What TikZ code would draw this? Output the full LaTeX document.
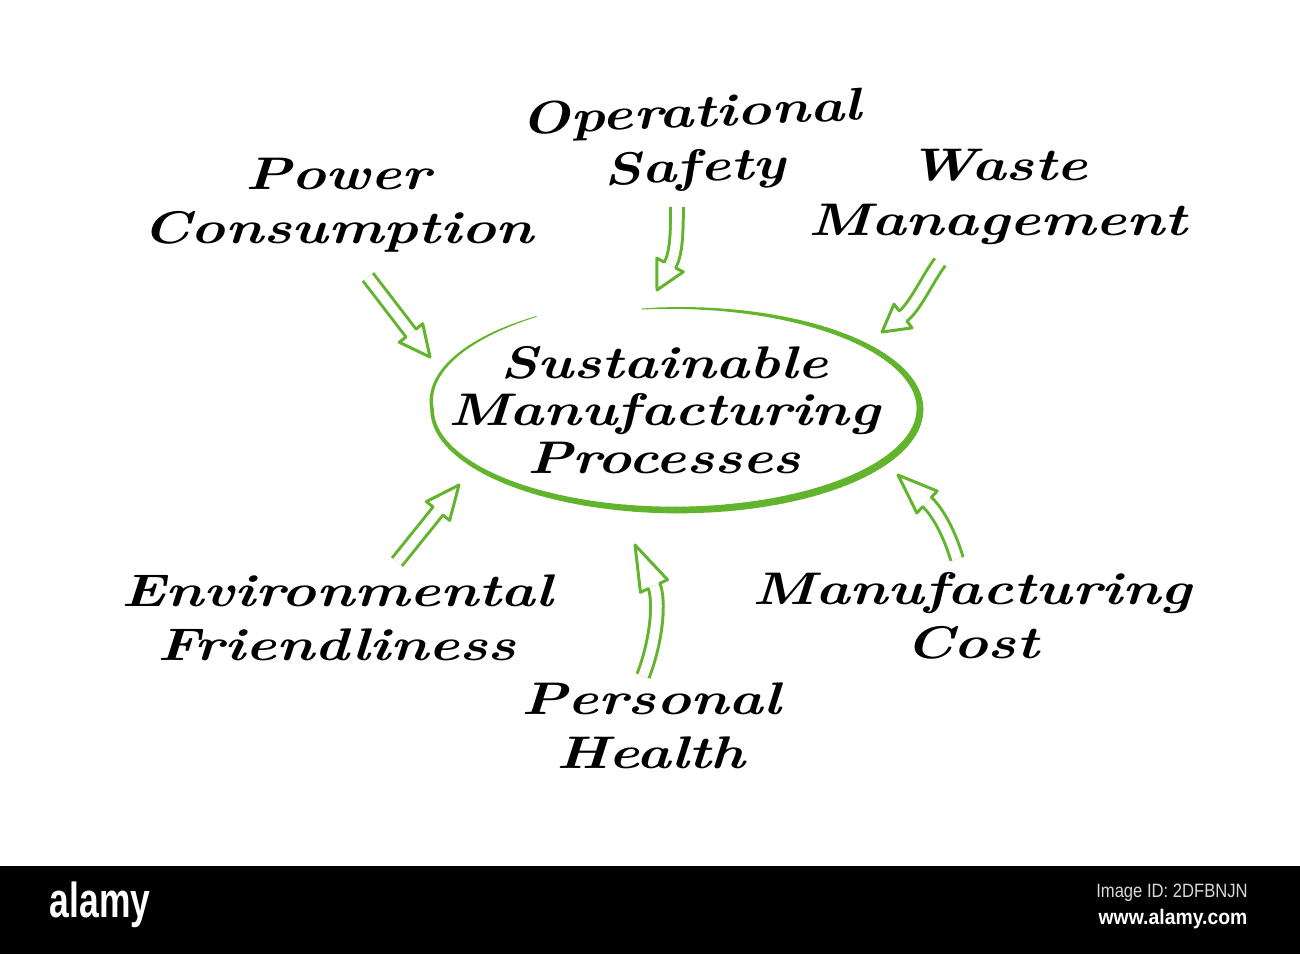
\documentclass[tikz,border=0pt]{standalone}
\usepackage{fontspec}
\newfontfamily\logofont{Liberation Sans}
\usetikzlibrary{calc}
\definecolor{grn}{RGB}{98,180,44}
\newcommand\hhead[2]{% #1 base centre, #2 tip
  \draw[arrline] ($(#1)!3.6pt!90:(#2)$) -- ($(#1)!8.5pt!90:(#2)$) -- (#2)
     -- ($(#1)!8.5pt!-90:(#2)$) -- ($(#1)!3.6pt!-90:(#2)$);}
\tikzset{
  lbl/.style={font=\fontsize{26}{31}\selectfont\bfseries\itshape, align=center, inner sep=0pt, xscale=1.28},
  clbl/.style={font=\fontsize{26}{27}\selectfont\bfseries\itshape, align=center, inner sep=0pt, xscale=1.26},
  arrline/.style={draw=grn, line width=1.7pt, line join=round, line cap=round},
  shaft/.style={draw=grn, line width=1.7pt, double=white, double distance=5.5pt},
}
\begin{document}
\begin{tikzpicture}[x=0.02cm,y=-0.02cm]
\useasboundingbox (0,0) rectangle (1300,954);
\fill[white] (0,0) rectangle (1300,954);
\fill[black] (0,866) rectangle (1300,954);

% ellipse (hand drawn stroke)
\foreach \t in {122,124,...,456} {
  \pgfmathsetmacro\es{max(sin((\t-122)/336*180),0.01)}
  \pgfmathsetmacro\ew{0.35+4.0*pow(\es,0.6)*(0.8+0.2*cos(\t-340))}
  \pgfmathsetmacro\ema{1+0.08*max(0,180-\t)/58}
  \pgfmathsetmacro\emb{1+0.08*max(0,178-\t)/58}
  \pgfmathsetmacro\exa{676+244*\ema*cos(\t)}
  \pgfmathsetmacro\eya{409-101*\ema*sin(\t)}
  \pgfmathsetmacro\exb{676+244*\emb*cos(\t+2)}
  \pgfmathsetmacro\eyb{409-101*\emb*sin(\t+2)}
  \draw[grn, line width=\ew pt, line cap=round] (\exa,\eya) -- (\exb,\eyb);
}

% texts
\node[clbl] (c) at (664,410) {Sustainable\\Manufacturing\\Processes};
\node[lbl] (pc) at (338,205) {Power\\Consumption};
\node[lbl, rotate=3] (os) at (693,143) {Operational\\Safety};
\node[lbl] (wm) at (998,197) {Waste\\Management};
\node[lbl] (ef) at (337,618) {Environmental\\Friendliness};
\node[lbl] (ph) at (651,726) {Personal\\Health};
\node[lbl] (mc) at (972,616) {Manufacturing\\Cost};

% arrow coordinates
\coordinate (a1s) at (368,277); \coordinate (a1b) at (411,333); \coordinate (a1t) at (430,357);
\coordinate (a2s) at (677,207); \coordinate (a2b) at (670,265); \coordinate (a2t) at (657,290);
\coordinate (a3s) at (940,262); \coordinate (a3b) at (903,316); \coordinate (a3t) at (882,332);
\coordinate (a4s) at (397,562); \coordinate (a4b) at (438,511); \coordinate (a4t) at (459,485);
\coordinate (a5s) at (643,676); \coordinate (a5b) at (654,586); \coordinate (a5t) at (635,545);
\coordinate (a6s) at (957,559); \coordinate (a6b) at (927,502); \coordinate (a6t) at (898,475);

\draw[shaft] (a1s) -- (a1b); \hhead{a1b}{a1t}
\draw[shaft] (a2s) .. controls (677,235) and (676,254) .. (a2b); \hhead{a2b}{a2t}
\draw[shaft] (a3s) .. controls (928,278) and (915,307) .. (a3b); \hhead{a3b}{a3t}
\draw[shaft] (a4s) -- (a4b); \hhead{a4b}{a4t}
\draw[shaft] (a5s) .. controls (657,640) and (660,600) .. (a5b); \hhead{a5b}{a5t}
\draw[shaft] (a6s) .. controls (950,535) and (938,512) .. (a6b); \hhead{a6b}{a6t}

% footer
\node[text=white, font=\logofont\fontsize{28}{30}\selectfont\bfseries, xscale=0.72, inner sep=0pt] (logo) at (100,905) {alamy};
\node[text=white!85!black, font=\logofont\fontsize{11}{12}\selectfont, xscale=0.86, inner sep=0pt] (imgid) at (1172,893) {Image ID: 2DFBNJN};
\node[text=white, font=\logofont\fontsize{12}{13}\selectfont\bfseries, xscale=0.92, inner sep=0pt] (url) at (1173,919) {www.alamy.com};
\end{tikzpicture}
\end{document}
